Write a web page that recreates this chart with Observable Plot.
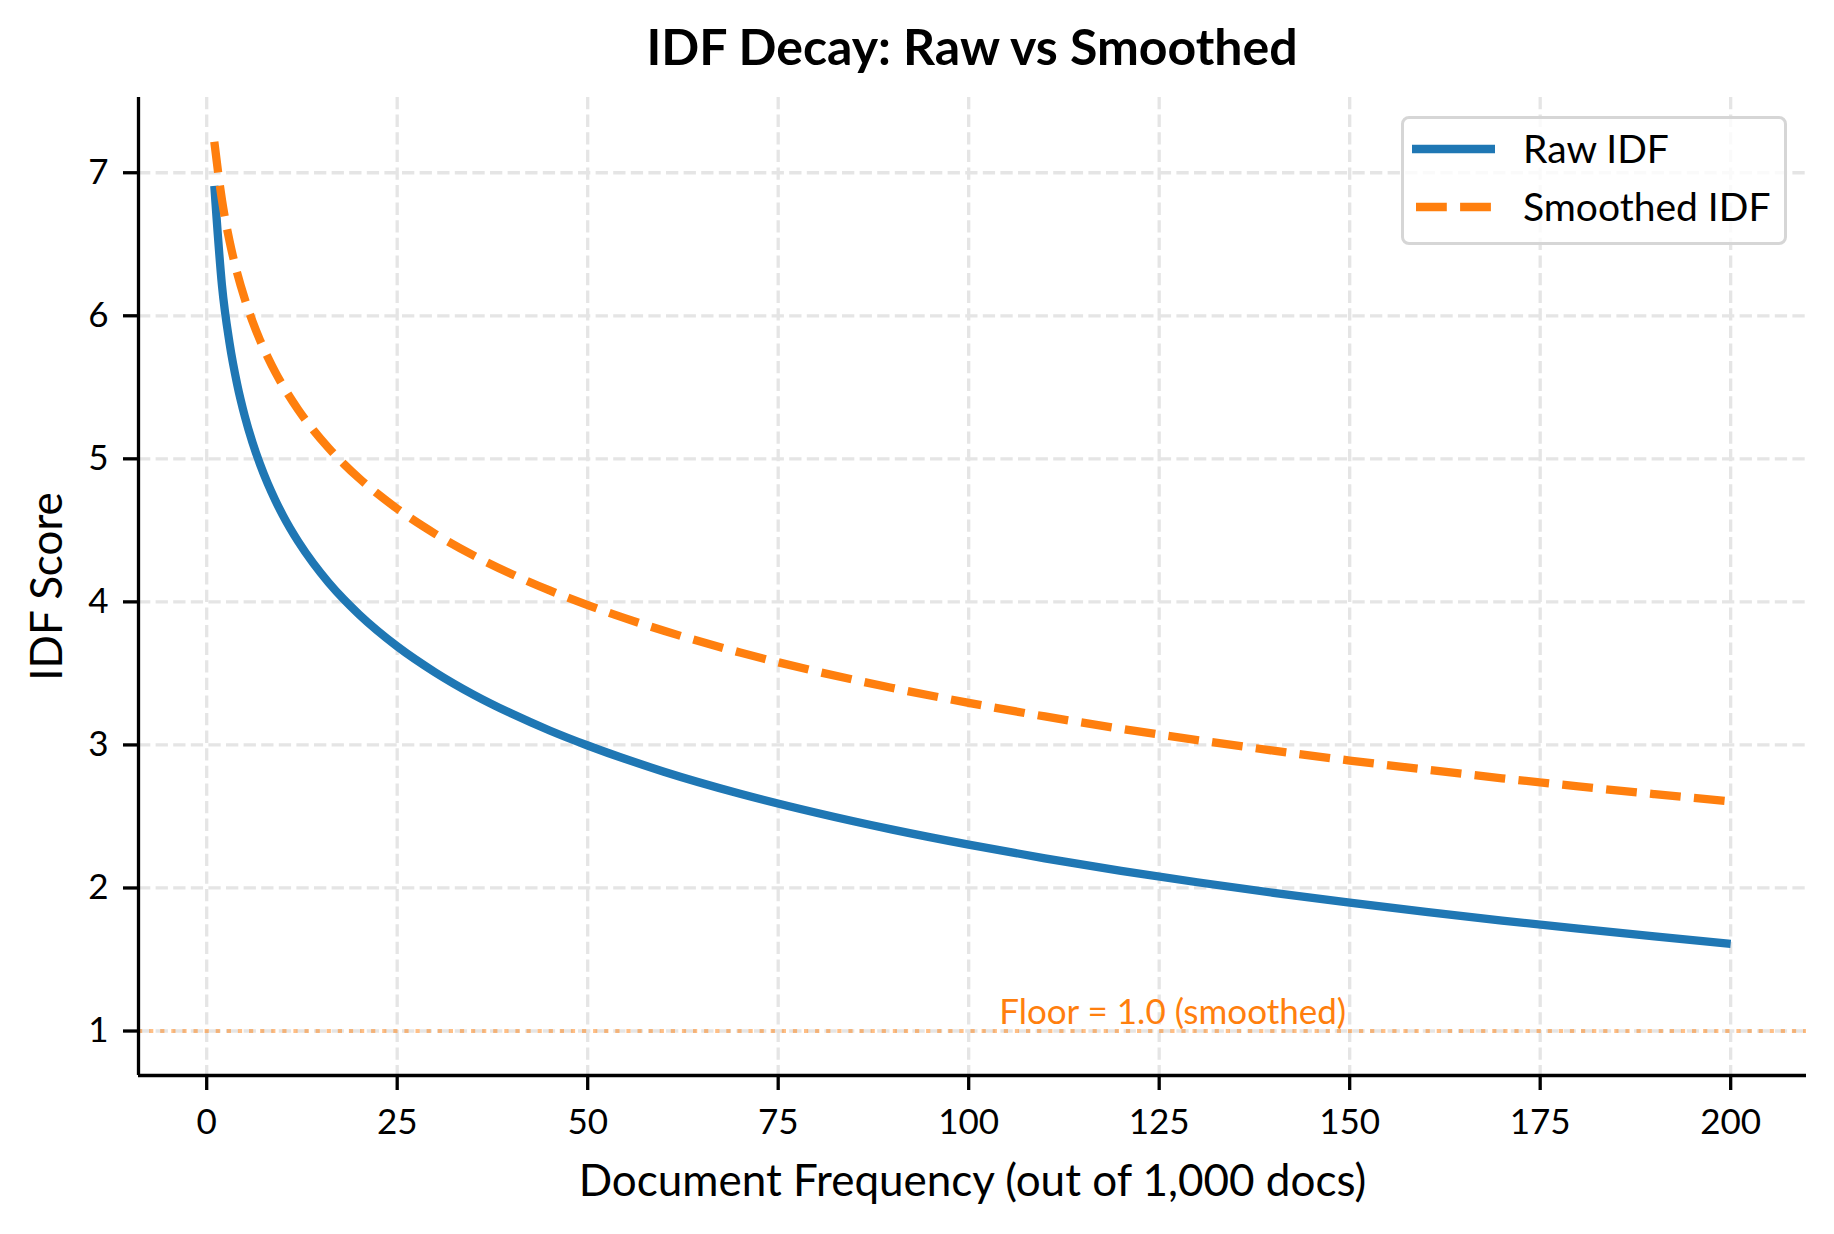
<!DOCTYPE html>
<html>
<head>
<meta charset="utf-8">
<script src="https://cdn.jsdelivr.net/npm/d3@7"></script>
<script src="https://cdn.jsdelivr.net/npm/@observablehq/plot@0.6"></script>
<style>
  html, body { margin: 0; padding: 0; background: #fff; }
  body { font-family: Lato, "Noto Sans", sans-serif; color: #000; }
  #wrap { position: relative; width: 1834px; height: 1234px; overflow: hidden; }
  #title { box-sizing: border-box; height: 90px; padding: 21px 28px 0 138px; font-size: 50px; line-height: 50px; font-weight: 700; text-align: center; }
  #legend { position: absolute; left: 1401px; top: 116px; width: 386px; height: 129px; box-sizing: border-box;
            border: 3.3px solid #d6d6d6; border-radius: 8px; background: rgba(255,255,255,0.8); }
  #legend svg { position: absolute; left: -3.3px; top: -3.3px; overflow: visible; }
</style>
</head>
<body>
<div id="wrap">
  <div id="title">IDF Decay: Raw vs Smoothed</div>
  <div id="chart"></div>
  <div id="legend"></div>
</div>
<script>
// ---- data ----
const docFreq = [1,2,3,4,5,6,7,8,9,10,12,14,16,18,20,25,30,35,40,45,50,60,70,80,90,100,110,120,130,140,150,160,170,180,190,200];
const rawIdf = [6.908,6.215,5.809,5.521,5.298,5.116,4.962,4.828,4.711,4.605,4.423,4.269,4.135,4.017,3.912,3.689,3.507,3.352,3.219,3.101,2.996,2.813,2.659,2.526,2.408,2.303,2.207,2.120,2.040,1.966,1.897,1.833,1.772,1.715,1.661,1.609];
const smoothedIdf = [7.216,6.810,6.522,6.299,6.117,5.963,5.829,5.712,5.606,5.511,5.344,5.201,5.076,4.964,4.864,4.651,4.475,4.325,4.195,4.080,3.977,3.798,3.646,3.514,3.398,3.294,3.199,3.113,3.034,2.960,2.891,2.827,2.767,2.710,2.656,2.605];
const seriesNames = ["Raw IDF", "Smoothed IDF"];
const seriesColors = ["#1f77b4", "#ff7f0e"];
const xTicks = [0,25,50,75,100,125,150,175,200];
const yTicks = [1,2,3,4,5,6,7];
const floorValue = [1.0];
const floorLabel = ["Floor = 1.0 (smoothed)"];
const floorLabelX = [104];
const floorLabelY = [1.05];
const xLabel = "Document Frequency (out of 1,000 docs)";
const yLabel = "IDF Score";
const xDomain = [-8.95, 209.95];
const yDomain = [0.689, 7.526];

const rawRows = docFreq.map((d, i) => ({df: d, v: rawIdf[i]}));
const smoothRows = docFreq.map((d, i) => ({df: d, v: smoothedIdf[i]}));
const floorRows = floorLabel.map((t, i) => ({t, x: floorLabelX[i], y: floorLabelY[i]}));

const gridStyle = {stroke: "#e5e5e5", strokeOpacity: 1, strokeWidth: 3.3, strokeDasharray: "12.3,5.3"};
const intFmt = d3.format("d");

const chart = Plot.plot({
  width: 1834,
  height: 1144,
  marginTop: 7,
  marginBottom: 159,
  marginLeft: 138,
  marginRight: 28,
  style: {fontFamily: "Lato, 'Noto Sans', sans-serif", color: "#000", background: "transparent", overflow: "visible"},
  x: {domain: xDomain},
  y: {domain: yDomain},
  marks: [
    Plot.gridX(xTicks, gridStyle),
    Plot.gridY(yTicks, gridStyle),
    Plot.ruleY(floorValue, {stroke: seriesColors[1], strokeOpacity: 0.5, strokeWidth: 4.2, strokeDasharray: "4.2,6.9"}),
    Plot.text(floorRows, {x: "x", y: "y", text: "t", fill: seriesColors[1], fontSize: 35, textAnchor: "start", lineAnchor: "bottom"}),
    Plot.line(rawRows, {x: "df", y: "v", stroke: seriesColors[0], strokeWidth: 8.3, curve: "monotone-x", strokeLinecap: "butt"}),
    Plot.line(smoothRows, {x: "df", y: "v", stroke: seriesColors[1], strokeWidth: 8.3, curve: "monotone-x", strokeDasharray: "30.8,13.3", strokeLinecap: "butt"}),
    Plot.ruleX([xDomain[0]], {stroke: "#000", strokeWidth: 3.3}),
    Plot.ruleY([yDomain[0]], {stroke: "#000", strokeWidth: 3.3}),
    Plot.axisX(xTicks, {tickSize: 15, tickPadding: 19, strokeWidth: 3.3, fontSize: 35, label: null, fill: "#000", stroke: "#000", tickFormat: intFmt}),
    Plot.axisY(yTicks, {tickSize: 15, tickPadding: 15, strokeWidth: 3.3, fontSize: 35, label: null, fill: "#000", stroke: "#000", tickFormat: intFmt}),
    Plot.text([yLabel], {text: d => d, frameAnchor: "left", textAnchor: "middle", lineAnchor: "middle", rotate: -90, dx: -91, fontSize: 44, fill: "#000"}),
    Plot.text([xLabel], {text: d => d, frameAnchor: "bottom", textAnchor: "middle", lineAnchor: "bottom", dy: 120, fontSize: 44, fill: "#000"})
  ]
});
document.getElementById("chart").appendChild(chart);

// ---- legend (HTML overlay inside the axes, like the reference) ----
const lg = d3.select("#legend").append("svg").attr("width", 386).attr("height", 129);
seriesNames.forEach((name, i) => {
  const yy = 33 + i * 58;
  lg.append("line").attr("x1", 11 + i * 4).attr("x2", 94 + i * 4).attr("y1", yy).attr("y2", yy)
    .attr("stroke", seriesColors[i]).attr("stroke-width", 8.3)
    .attr("stroke-dasharray", i === 1 ? "30.8,13.3" : null);
  lg.append("text").attr("x", 122).attr("y", yy + 14).attr("font-size", 39)
    .attr("font-family", "Lato, 'Noto Sans', sans-serif").attr("fill", "#000").text(name);
});
</script>
</body>
</html>
